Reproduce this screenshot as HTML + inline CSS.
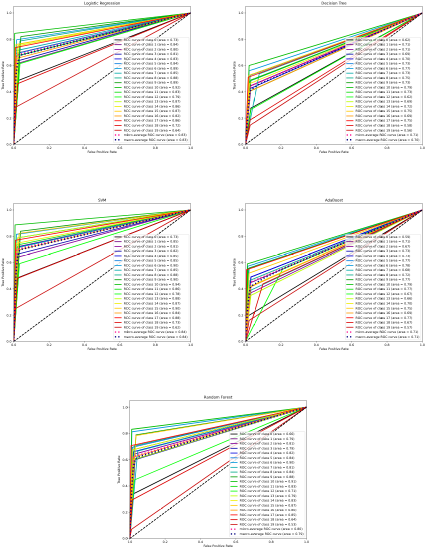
<!DOCTYPE html>
<html><head><meta charset="utf-8"><title>ROC curves</title>
<style>html,body{margin:0;padding:0;background:#fff;width:426px;height:550px;overflow:hidden}#wrap{width:852px;height:1100px;transform:scale(0.5);transform-origin:0 0;will-change:transform}svg{display:block}text{text-rendering:geometricPrecision;font-family:"DejaVu Sans","Liberation Sans",sans-serif;fill:#000}</style></head>
<body>
<div id="wrap">
<svg width="852" height="1100" viewBox="0 0 426 550">
<rect width="426" height="550" fill="#fff"/>
<g id="plot0">
<clipPath id="c0"><rect x="13.8" y="6.4" width="176.8" height="138"/></clipPath>
<g clip-path="url(#c0)" fill="none" stroke-linejoin="round">
<polyline stroke="#000000" stroke-width="0.8" points="13.8,144.4 18.57,80.39 190.6,12.97"/>
<polyline stroke="#700080" stroke-width="0.8" points="13.8,144.4 15.92,53.45 190.6,12.97"/>
<polyline stroke="#870098" stroke-width="0.8" points="13.8,144.4 16.28,63.7 190.6,12.97"/>
<polyline stroke="#0300aa" stroke-width="0.8" points="13.8,144.4 15.92,61.34 190.6,12.97"/>
<polyline stroke="#0000dd" stroke-width="0.8" points="13.8,144.4 15.74,56.21 190.6,12.97"/>
<polyline stroke="#0078dd" stroke-width="0.8" points="13.8,144.4 15.57,53.71 190.6,12.97"/>
<polyline stroke="#0098dd" stroke-width="0.8" points="13.8,144.4 16.63,39.78 190.6,12.97"/>
<polyline stroke="#00aaab" stroke-width="0.8" points="13.8,144.4 16.1,50.69 190.6,12.97"/>
<polyline stroke="#00aa88" stroke-width="0.8" points="13.8,144.4 19.99,40.97 190.6,12.97"/>
<polyline stroke="#009a00" stroke-width="0.8" points="13.8,144.4 20.87,36.63 190.6,12.97"/>
<polyline stroke="#00bc00" stroke-width="0.8" points="13.8,144.4 14.68,33.34 190.6,12.97"/>
<polyline stroke="#00dc00" stroke-width="0.8" points="13.8,144.4 15.92,56.08 190.6,12.97"/>
<polyline stroke="#00ff00" stroke-width="0.8" points="13.8,144.4 19.99,63.57 190.6,12.97"/>
<polyline stroke="#bcff00" stroke-width="0.8" points="13.8,144.4 19.1,44.25 190.6,12.97"/>
<polyline stroke="#efed00" stroke-width="0.8" points="13.8,144.4 17.69,45.83 190.6,12.97"/>
<polyline stroke="#ffc900" stroke-width="0.8" points="13.8,144.4 15.92,44.51 190.6,12.97"/>
<polyline stroke="#ff9900" stroke-width="0.8" points="13.8,144.4 16.28,58.45 190.6,12.97"/>
<polyline stroke="#fe0000" stroke-width="0.8" points="13.8,144.4 15.21,47.67 190.6,12.97"/>
<polyline stroke="#dc0000" stroke-width="0.8" points="13.8,144.4 17.69,83.68 190.6,12.97"/>
<polyline stroke="#cc0c0c" stroke-width="0.8" points="13.8,144.4 15.92,107.07 190.6,12.97"/>
<polyline stroke="#ff1493" stroke-width="1.4" stroke-dasharray="1.26 2.09" points="13.8,144.4 16.77,54.92 190.6,12.97"/>
<polyline stroke="#000080" stroke-width="1.4" stroke-dasharray="1.26 2.09" points="13.8,144.4 14.68,111.59 15.21,95.23 15.57,85.53 15.74,81.13 15.92,77.13 16.1,74.79 16.28,72.8 16.63,70 17.69,63.56 18.57,59.97 19.1,58.17 19.99,55.98 20.87,55.1 190.6,12.97"/>
<line stroke="#000" stroke-width="0.8" stroke-dasharray="2.34 1.01" x1="13.8" y1="144.4" x2="190.6" y2="12.97"/>
</g>
<rect x="13.8" y="6.4" width="176.8" height="138" fill="none" stroke="#000" stroke-width="0.25"/>
<path d="M13.8,144.4v1.11M13.8,144.4h-1.11M49.16,144.4v1.11M13.8,118.11h-1.11M84.52,144.4v1.11M13.8,91.83h-1.11M119.88,144.4v1.11M13.8,65.54h-1.11M155.24,144.4v1.11M13.8,39.26h-1.11M190.6,144.4v1.11M13.8,12.97h-1.11" stroke="#000" stroke-width="0.25" fill="none"/>
<g font-size="3.16">
<text x="13.8" y="149.01" text-anchor="middle">0.0</text>
<text x="49.16" y="149.01" text-anchor="middle">0.2</text>
<text x="84.52" y="149.01" text-anchor="middle">0.4</text>
<text x="119.88" y="149.01" text-anchor="middle">0.6</text>
<text x="155.24" y="149.01" text-anchor="middle">0.8</text>
<text x="190.6" y="149.01" text-anchor="middle">1.0</text>
<text x="11.59" y="145.54" text-anchor="end">0.0</text>
<text x="11.59" y="119.25" text-anchor="end">0.2</text>
<text x="11.59" y="92.97" text-anchor="end">0.4</text>
<text x="11.59" y="66.68" text-anchor="end">0.6</text>
<text x="11.59" y="40.39" text-anchor="end">0.8</text>
<text x="11.59" y="14.11" text-anchor="end">1.0</text>
<text x="102.2" y="153" text-anchor="middle">False Positive Rate</text>
<text transform="translate(3.9,75.4) rotate(-90)" text-anchor="middle">True Positive Rate</text>
</g>
<text x="102.2" y="4.5" font-size="3.79" text-anchor="middle">Logistic Regression</text>
<rect x="113.62" y="37.4" width="75.4" height="105.42" rx="0.6" fill="#fff" fill-opacity="0.8" stroke="#ccc" stroke-opacity="0.8" stroke-width="0.32"/>
<g font-size="3.16" fill="none">
<line x1="114.88" y1="39.9" x2="121.2" y2="39.9" stroke="#000000" stroke-width="0.8" stroke-linecap="square"/><text x="123.73" y="40.9" fill="#000">ROC curve of class 0 (area = 0.73)</text>
<line x1="114.88" y1="44.66" x2="121.2" y2="44.66" stroke="#700080" stroke-width="0.8" stroke-linecap="square"/><text x="123.73" y="45.66" fill="#000">ROC curve of class 1 (area = 0.84)</text>
<line x1="114.88" y1="49.41" x2="121.2" y2="49.41" stroke="#870098" stroke-width="0.8" stroke-linecap="square"/><text x="123.73" y="50.41" fill="#000">ROC curve of class 2 (area = 0.80)</text>
<line x1="114.88" y1="54.16" x2="121.2" y2="54.16" stroke="#0300aa" stroke-width="0.8" stroke-linecap="square"/><text x="123.73" y="55.16" fill="#000">ROC curve of class 3 (area = 0.81)</text>
<line x1="114.88" y1="58.92" x2="121.2" y2="58.92" stroke="#0000dd" stroke-width="0.8" stroke-linecap="square"/><text x="123.73" y="59.92" fill="#000">ROC curve of class 4 (area = 0.83)</text>
<line x1="114.88" y1="63.67" x2="121.2" y2="63.67" stroke="#0078dd" stroke-width="0.8" stroke-linecap="square"/><text x="123.73" y="64.67" fill="#000">ROC curve of class 5 (area = 0.84)</text>
<line x1="114.88" y1="68.43" x2="121.2" y2="68.43" stroke="#0098dd" stroke-width="0.8" stroke-linecap="square"/><text x="123.73" y="69.43" fill="#000">ROC curve of class 6 (area = 0.89)</text>
<line x1="114.88" y1="73.19" x2="121.2" y2="73.19" stroke="#00aaab" stroke-width="0.8" stroke-linecap="square"/><text x="123.73" y="74.19" fill="#000">ROC curve of class 7 (area = 0.85)</text>
<line x1="114.88" y1="77.94" x2="121.2" y2="77.94" stroke="#00aa88" stroke-width="0.8" stroke-linecap="square"/><text x="123.73" y="78.94" fill="#000">ROC curve of class 8 (area = 0.88)</text>
<line x1="114.88" y1="82.69" x2="121.2" y2="82.69" stroke="#009a00" stroke-width="0.8" stroke-linecap="square"/><text x="123.73" y="83.69" fill="#000">ROC curve of class 9 (area = 0.89)</text>
<line x1="114.88" y1="87.45" x2="121.2" y2="87.45" stroke="#00bc00" stroke-width="0.8" stroke-linecap="square"/><text x="123.73" y="88.45" fill="#000">ROC curve of class 10 (area = 0.92)</text>
<line x1="114.88" y1="92.2" x2="121.2" y2="92.2" stroke="#00dc00" stroke-width="0.8" stroke-linecap="square"/><text x="123.73" y="93.2" fill="#000">ROC curve of class 11 (area = 0.83)</text>
<line x1="114.88" y1="96.96" x2="121.2" y2="96.96" stroke="#00ff00" stroke-width="0.8" stroke-linecap="square"/><text x="123.73" y="97.96" fill="#000">ROC curve of class 12 (area = 0.79)</text>
<line x1="114.88" y1="101.72" x2="121.2" y2="101.72" stroke="#bcff00" stroke-width="0.8" stroke-linecap="square"/><text x="123.73" y="102.72" fill="#000">ROC curve of class 13 (area = 0.87)</text>
<line x1="114.88" y1="106.47" x2="121.2" y2="106.47" stroke="#efed00" stroke-width="0.8" stroke-linecap="square"/><text x="123.73" y="107.47" fill="#000">ROC curve of class 14 (area = 0.86)</text>
<line x1="114.88" y1="111.22" x2="121.2" y2="111.22" stroke="#ffc900" stroke-width="0.8" stroke-linecap="square"/><text x="123.73" y="112.22" fill="#000">ROC curve of class 15 (area = 0.87)</text>
<line x1="114.88" y1="115.98" x2="121.2" y2="115.98" stroke="#ff9900" stroke-width="0.8" stroke-linecap="square"/><text x="123.73" y="116.98" fill="#000">ROC curve of class 16 (area = 0.82)</text>
<line x1="114.88" y1="120.73" x2="121.2" y2="120.73" stroke="#fe0000" stroke-width="0.8" stroke-linecap="square"/><text x="123.73" y="121.73" fill="#000">ROC curve of class 17 (area = 0.86)</text>
<line x1="114.88" y1="125.49" x2="121.2" y2="125.49" stroke="#dc0000" stroke-width="0.8" stroke-linecap="square"/><text x="123.73" y="126.49" fill="#000">ROC curve of class 18 (area = 0.72)</text>
<line x1="114.88" y1="130.25" x2="121.2" y2="130.25" stroke="#cc0c0c" stroke-width="0.8" stroke-linecap="square"/><text x="123.73" y="131.25" fill="#000">ROC curve of class 19 (area = 0.64)</text>
<line x1="114.88" y1="135" x2="121.2" y2="135" stroke="#ff1493" stroke-width="1.4" stroke-dasharray="1.26 2.09"/><text x="123.73" y="136" fill="#000">micro-average ROC curve (area = 0.83)</text>
<line x1="114.88" y1="139.75" x2="121.2" y2="139.75" stroke="#000080" stroke-width="1.4" stroke-dasharray="1.26 2.09"/><text x="123.73" y="140.75" fill="#000">macro-average ROC curve (area = 0.83)</text>
</g>
</g>
<g id="plot1">
<clipPath id="c1"><rect x="245.6" y="6.4" width="176.8" height="138"/></clipPath>
<g clip-path="url(#c1)" fill="none" stroke-linejoin="round">
<polyline stroke="#000000" stroke-width="0.8" points="245.6,144.4 250.9,108.13 422.4,12.97"/>
<polyline stroke="#700080" stroke-width="0.8" points="245.6,144.4 250.02,85.91 422.4,12.97"/>
<polyline stroke="#870098" stroke-width="0.8" points="245.6,144.4 249.49,86.31 422.4,12.97"/>
<polyline stroke="#0300aa" stroke-width="0.8" points="245.6,144.4 250.55,90.78 422.4,12.97"/>
<polyline stroke="#0000dd" stroke-width="0.8" points="245.6,144.4 249.84,88.67 422.4,12.97"/>
<polyline stroke="#0078dd" stroke-width="0.8" points="245.6,144.4 249.14,81.31 422.4,12.97"/>
<polyline stroke="#0098dd" stroke-width="0.8" points="245.6,144.4 249.14,70.8 422.4,12.97"/>
<polyline stroke="#00aaab" stroke-width="0.8" points="245.6,144.4 259.21,73.82 422.4,12.97"/>
<polyline stroke="#00aa88" stroke-width="0.8" points="245.6,144.4 250.2,75.27 422.4,12.97"/>
<polyline stroke="#009a00" stroke-width="0.8" points="245.6,144.4 250.9,80 422.4,12.97"/>
<polyline stroke="#00bc00" stroke-width="0.8" points="245.6,144.4 249.14,65.54 422.4,12.97"/>
<polyline stroke="#00dc00" stroke-width="0.8" points="245.6,144.4 249.49,81.05 422.4,12.97"/>
<polyline stroke="#00ff00" stroke-width="0.8" points="245.6,144.4 250.9,109.44 422.4,12.97"/>
<polyline stroke="#bcff00" stroke-width="0.8" points="245.6,144.4 250.02,91.17 422.4,12.97"/>
<polyline stroke="#efed00" stroke-width="0.8" points="245.6,144.4 249.49,83.68 422.4,12.97"/>
<polyline stroke="#ffc900" stroke-width="0.8" points="245.6,144.4 249.14,75.27 422.4,12.97"/>
<polyline stroke="#ff9900" stroke-width="0.8" points="245.6,144.4 250.02,91.17 422.4,12.97"/>
<polyline stroke="#fe0000" stroke-width="0.8" points="245.6,144.4 248.25,77.24 422.4,12.97"/>
<polyline stroke="#dc0000" stroke-width="0.8" points="245.6,144.4 250.2,119.95 422.4,12.97"/>
<polyline stroke="#cc0c0c" stroke-width="0.8" points="245.6,144.4 250.2,125.21 422.4,12.97"/>
<polyline stroke="#ff1493" stroke-width="1.4" stroke-dasharray="1.26 2.09" points="245.6,144.4 250.76,85.89 422.4,12.97"/>
<polyline stroke="#000080" stroke-width="1.4" stroke-dasharray="1.26 2.09" points="245.6,144.4 248.25,108.7 249.14,97.9 249.49,94.98 249.84,92.87 250.02,91.92 250.2,91.3 250.55,90.45 250.9,89.78 259.21,84.16 422.4,12.97"/>
<line stroke="#000" stroke-width="0.8" stroke-dasharray="2.34 1.01" x1="245.6" y1="144.4" x2="422.4" y2="12.97"/>
</g>
<rect x="245.6" y="6.4" width="176.8" height="138" fill="none" stroke="#000" stroke-width="0.25"/>
<path d="M245.6,144.4v1.11M245.6,144.4h-1.11M280.96,144.4v1.11M245.6,118.11h-1.11M316.32,144.4v1.11M245.6,91.83h-1.11M351.68,144.4v1.11M245.6,65.54h-1.11M387.04,144.4v1.11M245.6,39.26h-1.11M422.4,144.4v1.11M245.6,12.97h-1.11" stroke="#000" stroke-width="0.25" fill="none"/>
<g font-size="3.16">
<text x="245.6" y="149.01" text-anchor="middle">0.0</text>
<text x="280.96" y="149.01" text-anchor="middle">0.2</text>
<text x="316.32" y="149.01" text-anchor="middle">0.4</text>
<text x="351.68" y="149.01" text-anchor="middle">0.6</text>
<text x="387.04" y="149.01" text-anchor="middle">0.8</text>
<text x="422.4" y="149.01" text-anchor="middle">1.0</text>
<text x="243.39" y="145.54" text-anchor="end">0.0</text>
<text x="243.39" y="119.25" text-anchor="end">0.2</text>
<text x="243.39" y="92.97" text-anchor="end">0.4</text>
<text x="243.39" y="66.68" text-anchor="end">0.6</text>
<text x="243.39" y="40.39" text-anchor="end">0.8</text>
<text x="243.39" y="14.11" text-anchor="end">1.0</text>
<text x="334" y="153" text-anchor="middle">False Positive Rate</text>
<text transform="translate(235.7,75.4) rotate(-90)" text-anchor="middle">True Positive Rate</text>
</g>
<text x="334" y="4.5" font-size="3.79" text-anchor="middle">Decision Tree</text>
<rect x="345.42" y="37.4" width="75.4" height="105.42" rx="0.6" fill="#fff" fill-opacity="0.8" stroke="#ccc" stroke-opacity="0.8" stroke-width="0.32"/>
<g font-size="3.16" fill="none">
<line x1="346.68" y1="39.9" x2="353" y2="39.9" stroke="#000000" stroke-width="0.8" stroke-linecap="square"/><text x="355.53" y="40.9" fill="#000">ROC curve of class 0 (area = 0.62)</text>
<line x1="346.68" y1="44.66" x2="353" y2="44.66" stroke="#700080" stroke-width="0.8" stroke-linecap="square"/><text x="355.53" y="45.66" fill="#000">ROC curve of class 1 (area = 0.71)</text>
<line x1="346.68" y1="49.41" x2="353" y2="49.41" stroke="#870098" stroke-width="0.8" stroke-linecap="square"/><text x="355.53" y="50.41" fill="#000">ROC curve of class 2 (area = 0.71)</text>
<line x1="346.68" y1="54.16" x2="353" y2="54.16" stroke="#0300aa" stroke-width="0.8" stroke-linecap="square"/><text x="355.53" y="55.16" fill="#000">ROC curve of class 3 (area = 0.69)</text>
<line x1="346.68" y1="58.92" x2="353" y2="58.92" stroke="#0000dd" stroke-width="0.8" stroke-linecap="square"/><text x="355.53" y="59.92" fill="#000">ROC curve of class 4 (area = 0.70)</text>
<line x1="346.68" y1="63.67" x2="353" y2="63.67" stroke="#0078dd" stroke-width="0.8" stroke-linecap="square"/><text x="355.53" y="64.67" fill="#000">ROC curve of class 5 (area = 0.73)</text>
<line x1="346.68" y1="68.43" x2="353" y2="68.43" stroke="#0098dd" stroke-width="0.8" stroke-linecap="square"/><text x="355.53" y="69.43" fill="#000">ROC curve of class 6 (area = 0.77)</text>
<line x1="346.68" y1="73.19" x2="353" y2="73.19" stroke="#00aaab" stroke-width="0.8" stroke-linecap="square"/><text x="355.53" y="74.19" fill="#000">ROC curve of class 7 (area = 0.73)</text>
<line x1="346.68" y1="77.94" x2="353" y2="77.94" stroke="#00aa88" stroke-width="0.8" stroke-linecap="square"/><text x="355.53" y="78.94" fill="#000">ROC curve of class 8 (area = 0.75)</text>
<line x1="346.68" y1="82.69" x2="353" y2="82.69" stroke="#009a00" stroke-width="0.8" stroke-linecap="square"/><text x="355.53" y="83.69" fill="#000">ROC curve of class 9 (area = 0.73)</text>
<line x1="346.68" y1="87.45" x2="353" y2="87.45" stroke="#00bc00" stroke-width="0.8" stroke-linecap="square"/><text x="355.53" y="88.45" fill="#000">ROC curve of class 10 (area = 0.79)</text>
<line x1="346.68" y1="92.2" x2="353" y2="92.2" stroke="#00dc00" stroke-width="0.8" stroke-linecap="square"/><text x="355.53" y="93.2" fill="#000">ROC curve of class 11 (area = 0.73)</text>
<line x1="346.68" y1="96.96" x2="353" y2="96.96" stroke="#00ff00" stroke-width="0.8" stroke-linecap="square"/><text x="355.53" y="97.96" fill="#000">ROC curve of class 12 (area = 0.62)</text>
<line x1="346.68" y1="101.72" x2="353" y2="101.72" stroke="#bcff00" stroke-width="0.8" stroke-linecap="square"/><text x="355.53" y="102.72" fill="#000">ROC curve of class 13 (area = 0.69)</text>
<line x1="346.68" y1="106.47" x2="353" y2="106.47" stroke="#efed00" stroke-width="0.8" stroke-linecap="square"/><text x="355.53" y="107.47" fill="#000">ROC curve of class 14 (area = 0.72)</text>
<line x1="346.68" y1="111.22" x2="353" y2="111.22" stroke="#ffc900" stroke-width="0.8" stroke-linecap="square"/><text x="355.53" y="112.22" fill="#000">ROC curve of class 15 (area = 0.75)</text>
<line x1="346.68" y1="115.98" x2="353" y2="115.98" stroke="#ff9900" stroke-width="0.8" stroke-linecap="square"/><text x="355.53" y="116.98" fill="#000">ROC curve of class 16 (area = 0.69)</text>
<line x1="346.68" y1="120.73" x2="353" y2="120.73" stroke="#fe0000" stroke-width="0.8" stroke-linecap="square"/><text x="355.53" y="121.73" fill="#000">ROC curve of class 17 (area = 0.75)</text>
<line x1="346.68" y1="125.49" x2="353" y2="125.49" stroke="#dc0000" stroke-width="0.8" stroke-linecap="square"/><text x="355.53" y="126.49" fill="#000">ROC curve of class 18 (area = 0.58)</text>
<line x1="346.68" y1="130.25" x2="353" y2="130.25" stroke="#cc0c0c" stroke-width="0.8" stroke-linecap="square"/><text x="355.53" y="131.25" fill="#000">ROC curve of class 19 (area = 0.56)</text>
<line x1="346.68" y1="135" x2="353" y2="135" stroke="#ff1493" stroke-width="1.4" stroke-dasharray="1.26 2.09"/><text x="355.53" y="136" fill="#000">micro-average ROC curve (area = 0.71)</text>
<line x1="346.68" y1="139.75" x2="353" y2="139.75" stroke="#000080" stroke-width="1.4" stroke-dasharray="1.26 2.09"/><text x="355.53" y="140.75" fill="#000">macro-average ROC curve (area = 0.70)</text>
</g>
</g>
<g id="plot2">
<clipPath id="c2"><rect x="13.8" y="203.42" width="176.8" height="138"/></clipPath>
<g clip-path="url(#c2)" fill="none" stroke-linejoin="round">
<polyline stroke="#000000" stroke-width="0.8" points="13.8,341.42 18.22,277.68 190.6,209.99"/>
<polyline stroke="#700080" stroke-width="0.8" points="13.8,341.42 17.34,246.79 190.6,209.99"/>
<polyline stroke="#870098" stroke-width="0.8" points="13.8,341.42 17.34,257.31 190.6,209.99"/>
<polyline stroke="#0300aa" stroke-width="0.8" points="13.8,341.42 18.22,254.02 190.6,209.99"/>
<polyline stroke="#0000dd" stroke-width="0.8" points="13.8,341.42 16.45,247.45 190.6,209.99"/>
<polyline stroke="#0078dd" stroke-width="0.8" points="13.8,341.42 15.92,247.84 190.6,209.99"/>
<polyline stroke="#0098dd" stroke-width="0.8" points="13.8,341.42 16.45,234.31 190.6,209.99"/>
<polyline stroke="#00aaab" stroke-width="0.8" points="13.8,341.42 15.92,247.84 190.6,209.99"/>
<polyline stroke="#00aa88" stroke-width="0.8" points="13.8,341.42 19.1,237.59 190.6,209.99"/>
<polyline stroke="#009a00" stroke-width="0.8" points="13.8,341.42 20.52,231.28 190.6,209.99"/>
<polyline stroke="#00bc00" stroke-width="0.8" points="13.8,341.42 15.04,224.84 190.6,209.99"/>
<polyline stroke="#00dc00" stroke-width="0.8" points="13.8,341.42 15.92,245.21 190.6,209.99"/>
<polyline stroke="#00ff00" stroke-width="0.8" points="13.8,341.42 19.46,263.61 190.6,209.99"/>
<polyline stroke="#bcff00" stroke-width="0.8" points="13.8,341.42 17.34,237.85 190.6,209.99"/>
<polyline stroke="#efed00" stroke-width="0.8" points="13.8,341.42 15.92,243.37 190.6,209.99"/>
<polyline stroke="#ffc900" stroke-width="0.8" points="13.8,341.42 19.1,233.39 190.6,209.99"/>
<polyline stroke="#ff9900" stroke-width="0.8" points="13.8,341.42 15.92,250.47 190.6,209.99"/>
<polyline stroke="#fe0000" stroke-width="0.8" points="13.8,341.42 15.57,240.22 190.6,209.99"/>
<polyline stroke="#dc0000" stroke-width="0.8" points="13.8,341.42 17.34,278.33 190.6,209.99"/>
<polyline stroke="#cc0c0c" stroke-width="0.8" points="13.8,341.42 15.57,308.56 190.6,209.99"/>
<polyline stroke="#ff1493" stroke-width="1.4" stroke-dasharray="1.26 2.09" points="13.8,341.42 16.58,249.2 190.6,209.99"/>
<polyline stroke="#000080" stroke-width="1.4" stroke-dasharray="1.26 2.09" points="13.8,341.42 15.04,299.93 15.57,284.65 15.92,275.79 16.45,268.37 17.34,259.34 18.22,254.59 19.1,251.32 19.46,250.71 20.52,249.6 190.6,209.99"/>
<line stroke="#000" stroke-width="0.8" stroke-dasharray="2.34 1.01" x1="13.8" y1="341.42" x2="190.6" y2="209.99"/>
</g>
<rect x="13.8" y="203.42" width="176.8" height="138" fill="none" stroke="#000" stroke-width="0.25"/>
<path d="M13.8,341.42v1.11M13.8,341.42h-1.11M49.16,341.42v1.11M13.8,315.13h-1.11M84.52,341.42v1.11M13.8,288.85h-1.11M119.88,341.42v1.11M13.8,262.56h-1.11M155.24,341.42v1.11M13.8,236.28h-1.11M190.6,341.42v1.11M13.8,209.99h-1.11" stroke="#000" stroke-width="0.25" fill="none"/>
<g font-size="3.16">
<text x="13.8" y="346.03" text-anchor="middle">0.0</text>
<text x="49.16" y="346.03" text-anchor="middle">0.2</text>
<text x="84.52" y="346.03" text-anchor="middle">0.4</text>
<text x="119.88" y="346.03" text-anchor="middle">0.6</text>
<text x="155.24" y="346.03" text-anchor="middle">0.8</text>
<text x="190.6" y="346.03" text-anchor="middle">1.0</text>
<text x="11.59" y="342.56" text-anchor="end">0.0</text>
<text x="11.59" y="316.27" text-anchor="end">0.2</text>
<text x="11.59" y="289.99" text-anchor="end">0.4</text>
<text x="11.59" y="263.7" text-anchor="end">0.6</text>
<text x="11.59" y="237.41" text-anchor="end">0.8</text>
<text x="11.59" y="211.13" text-anchor="end">1.0</text>
<text x="102.2" y="350.02" text-anchor="middle">False Positive Rate</text>
<text transform="translate(3.9,272.42) rotate(-90)" text-anchor="middle">True Positive Rate</text>
</g>
<text x="102.2" y="201.52" font-size="3.79" text-anchor="middle">SVM</text>
<rect x="113.62" y="234.42" width="75.4" height="105.42" rx="0.6" fill="#fff" fill-opacity="0.8" stroke="#ccc" stroke-opacity="0.8" stroke-width="0.32"/>
<g font-size="3.16" fill="none">
<line x1="114.88" y1="236.92" x2="121.2" y2="236.92" stroke="#000000" stroke-width="0.8" stroke-linecap="square"/><text x="123.73" y="237.92" fill="#000">ROC curve of class 0 (area = 0.73)</text>
<line x1="114.88" y1="241.67" x2="121.2" y2="241.67" stroke="#700080" stroke-width="0.8" stroke-linecap="square"/><text x="123.73" y="242.67" fill="#000">ROC curve of class 1 (area = 0.85)</text>
<line x1="114.88" y1="246.43" x2="121.2" y2="246.43" stroke="#870098" stroke-width="0.8" stroke-linecap="square"/><text x="123.73" y="247.43" fill="#000">ROC curve of class 2 (area = 0.81)</text>
<line x1="114.88" y1="251.19" x2="121.2" y2="251.19" stroke="#0300aa" stroke-width="0.8" stroke-linecap="square"/><text x="123.73" y="252.19" fill="#000">ROC curve of class 3 (area = 0.82)</text>
<line x1="114.88" y1="255.94" x2="121.2" y2="255.94" stroke="#0000dd" stroke-width="0.8" stroke-linecap="square"/><text x="123.73" y="256.94" fill="#000">ROC curve of class 4 (area = 0.85)</text>
<line x1="114.88" y1="260.69" x2="121.2" y2="260.69" stroke="#0078dd" stroke-width="0.8" stroke-linecap="square"/><text x="123.73" y="261.69" fill="#000">ROC curve of class 5 (area = 0.85)</text>
<line x1="114.88" y1="265.45" x2="121.2" y2="265.45" stroke="#0098dd" stroke-width="0.8" stroke-linecap="square"/><text x="123.73" y="266.45" fill="#000">ROC curve of class 6 (area = 0.90)</text>
<line x1="114.88" y1="270.2" x2="121.2" y2="270.2" stroke="#00aaab" stroke-width="0.8" stroke-linecap="square"/><text x="123.73" y="271.2" fill="#000">ROC curve of class 7 (area = 0.85)</text>
<line x1="114.88" y1="274.96" x2="121.2" y2="274.96" stroke="#00aa88" stroke-width="0.8" stroke-linecap="square"/><text x="123.73" y="275.96" fill="#000">ROC curve of class 8 (area = 0.88)</text>
<line x1="114.88" y1="279.71" x2="121.2" y2="279.71" stroke="#009a00" stroke-width="0.8" stroke-linecap="square"/><text x="123.73" y="280.71" fill="#000">ROC curve of class 9 (area = 0.90)</text>
<line x1="114.88" y1="284.47" x2="121.2" y2="284.47" stroke="#00bc00" stroke-width="0.8" stroke-linecap="square"/><text x="123.73" y="285.47" fill="#000">ROC curve of class 10 (area = 0.94)</text>
<line x1="114.88" y1="289.22" x2="121.2" y2="289.22" stroke="#00dc00" stroke-width="0.8" stroke-linecap="square"/><text x="123.73" y="290.22" fill="#000">ROC curve of class 11 (area = 0.86)</text>
<line x1="114.88" y1="293.98" x2="121.2" y2="293.98" stroke="#00ff00" stroke-width="0.8" stroke-linecap="square"/><text x="123.73" y="294.98" fill="#000">ROC curve of class 12 (area = 0.78)</text>
<line x1="114.88" y1="298.74" x2="121.2" y2="298.74" stroke="#bcff00" stroke-width="0.8" stroke-linecap="square"/><text x="123.73" y="299.74" fill="#000">ROC curve of class 13 (area = 0.88)</text>
<line x1="114.88" y1="303.49" x2="121.2" y2="303.49" stroke="#efed00" stroke-width="0.8" stroke-linecap="square"/><text x="123.73" y="304.49" fill="#000">ROC curve of class 14 (area = 0.87)</text>
<line x1="114.88" y1="308.25" x2="121.2" y2="308.25" stroke="#ffc900" stroke-width="0.8" stroke-linecap="square"/><text x="123.73" y="309.25" fill="#000">ROC curve of class 15 (area = 0.90)</text>
<line x1="114.88" y1="313" x2="121.2" y2="313" stroke="#ff9900" stroke-width="0.8" stroke-linecap="square"/><text x="123.73" y="314" fill="#000">ROC curve of class 16 (area = 0.84)</text>
<line x1="114.88" y1="317.75" x2="121.2" y2="317.75" stroke="#fe0000" stroke-width="0.8" stroke-linecap="square"/><text x="123.73" y="318.75" fill="#000">ROC curve of class 17 (area = 0.88)</text>
<line x1="114.88" y1="322.51" x2="121.2" y2="322.51" stroke="#dc0000" stroke-width="0.8" stroke-linecap="square"/><text x="123.73" y="323.51" fill="#000">ROC curve of class 18 (area = 0.73)</text>
<line x1="114.88" y1="327.26" x2="121.2" y2="327.26" stroke="#cc0c0c" stroke-width="0.8" stroke-linecap="square"/><text x="123.73" y="328.26" fill="#000">ROC curve of class 19 (area = 0.62)</text>
<line x1="114.88" y1="332.02" x2="121.2" y2="332.02" stroke="#ff1493" stroke-width="1.4" stroke-dasharray="1.26 2.09"/><text x="123.73" y="333.02" fill="#000">micro-average ROC curve (area = 0.84)</text>
<line x1="114.88" y1="336.77" x2="121.2" y2="336.77" stroke="#000080" stroke-width="1.4" stroke-dasharray="1.26 2.09"/><text x="123.73" y="337.77" fill="#000">macro-average ROC curve (area = 0.84)</text>
</g>
</g>
<g id="plot3">
<clipPath id="c3"><rect x="245.6" y="203.42" width="176.8" height="138"/></clipPath>
<g clip-path="url(#c3)" fill="none" stroke-linejoin="round">
<polyline stroke="#000000" stroke-width="0.8" points="245.6,341.42 248.25,315.79 422.4,209.99"/>
<polyline stroke="#700080" stroke-width="0.8" points="245.6,341.42 250.02,282.93 422.4,209.99"/>
<polyline stroke="#870098" stroke-width="0.8" points="245.6,341.42 250.9,292.79 422.4,209.99"/>
<polyline stroke="#0300aa" stroke-width="0.8" points="245.6,341.42 250.9,277.02 422.4,209.99"/>
<polyline stroke="#0000dd" stroke-width="0.8" points="245.6,341.42 250.9,277.02 422.4,209.99"/>
<polyline stroke="#0078dd" stroke-width="0.8" points="245.6,341.42 249.14,267.82 422.4,209.99"/>
<polyline stroke="#0098dd" stroke-width="0.8" points="245.6,341.42 247.72,266.24 422.4,209.99"/>
<polyline stroke="#00aaab" stroke-width="0.8" points="245.6,341.42 250.9,290.16 422.4,209.99"/>
<polyline stroke="#00aa88" stroke-width="0.8" points="245.6,341.42 250.02,280.31 422.4,209.99"/>
<polyline stroke="#009a00" stroke-width="0.8" points="245.6,341.42 247.72,268.87 422.4,209.99"/>
<polyline stroke="#00bc00" stroke-width="0.8" points="245.6,341.42 247.37,263.88 422.4,209.99"/>
<polyline stroke="#00dc00" stroke-width="0.8" points="245.6,341.42 248.25,268.48 422.4,209.99"/>
<polyline stroke="#00ff00" stroke-width="0.8" points="245.6,341.42 282.37,269.4 422.4,209.99"/>
<polyline stroke="#bcff00" stroke-width="0.8" points="245.6,341.42 250.9,295.42 422.4,209.99"/>
<polyline stroke="#efed00" stroke-width="0.8" points="245.6,341.42 250.02,286.35 422.4,209.99"/>
<polyline stroke="#ffc900" stroke-width="0.8" points="245.6,341.42 249.14,273.08 422.4,209.99"/>
<polyline stroke="#ff9900" stroke-width="0.8" points="245.6,341.42 250.9,286.75 422.4,209.99"/>
<polyline stroke="#fe0000" stroke-width="0.8" points="245.6,341.42 246.48,269.79 422.4,209.99"/>
<polyline stroke="#dc0000" stroke-width="0.8" points="245.6,341.42 262.93,283.85 422.4,209.99"/>
<polyline stroke="#cc0c0c" stroke-width="0.8" points="245.6,341.42 249.14,320.39 422.4,209.99"/>
<polyline stroke="#ff1493" stroke-width="1.4" stroke-dasharray="1.26 2.09" points="245.6,341.42 250.69,281.91 422.4,209.99"/>
<polyline stroke="#000080" stroke-width="1.4" stroke-dasharray="1.26 2.09" points="245.6,341.42 246.48,324.42 247.37,310.98 247.72,306.38 248.25,301.3 249.14,294.44 250.02,289.56 250.9,286.36 262.93,278.66 282.37,268.97 422.4,209.99"/>
<line stroke="#000" stroke-width="0.8" stroke-dasharray="2.34 1.01" x1="245.6" y1="341.42" x2="422.4" y2="209.99"/>
</g>
<rect x="245.6" y="203.42" width="176.8" height="138" fill="none" stroke="#000" stroke-width="0.25"/>
<path d="M245.6,341.42v1.11M245.6,341.42h-1.11M280.96,341.42v1.11M245.6,315.13h-1.11M316.32,341.42v1.11M245.6,288.85h-1.11M351.68,341.42v1.11M245.6,262.56h-1.11M387.04,341.42v1.11M245.6,236.28h-1.11M422.4,341.42v1.11M245.6,209.99h-1.11" stroke="#000" stroke-width="0.25" fill="none"/>
<g font-size="3.16">
<text x="245.6" y="346.03" text-anchor="middle">0.0</text>
<text x="280.96" y="346.03" text-anchor="middle">0.2</text>
<text x="316.32" y="346.03" text-anchor="middle">0.4</text>
<text x="351.68" y="346.03" text-anchor="middle">0.6</text>
<text x="387.04" y="346.03" text-anchor="middle">0.8</text>
<text x="422.4" y="346.03" text-anchor="middle">1.0</text>
<text x="243.39" y="342.56" text-anchor="end">0.0</text>
<text x="243.39" y="316.27" text-anchor="end">0.2</text>
<text x="243.39" y="289.99" text-anchor="end">0.4</text>
<text x="243.39" y="263.7" text-anchor="end">0.6</text>
<text x="243.39" y="237.41" text-anchor="end">0.8</text>
<text x="243.39" y="211.13" text-anchor="end">1.0</text>
<text x="334" y="350.02" text-anchor="middle">False Positive Rate</text>
<text transform="translate(235.7,272.42) rotate(-90)" text-anchor="middle">True Positive Rate</text>
</g>
<text x="334" y="201.52" font-size="3.79" text-anchor="middle">AdaBoost</text>
<rect x="345.42" y="234.42" width="75.4" height="105.42" rx="0.6" fill="#fff" fill-opacity="0.8" stroke="#ccc" stroke-opacity="0.8" stroke-width="0.32"/>
<g font-size="3.16" fill="none">
<line x1="346.68" y1="236.92" x2="353" y2="236.92" stroke="#000000" stroke-width="0.8" stroke-linecap="square"/><text x="355.53" y="237.92" fill="#000">ROC curve of class 0 (area = 0.59)</text>
<line x1="346.68" y1="241.67" x2="353" y2="241.67" stroke="#700080" stroke-width="0.8" stroke-linecap="square"/><text x="355.53" y="242.67" fill="#000">ROC curve of class 1 (area = 0.71)</text>
<line x1="346.68" y1="246.43" x2="353" y2="246.43" stroke="#870098" stroke-width="0.8" stroke-linecap="square"/><text x="355.53" y="247.43" fill="#000">ROC curve of class 2 (area = 0.67)</text>
<line x1="346.68" y1="251.19" x2="353" y2="251.19" stroke="#0300aa" stroke-width="0.8" stroke-linecap="square"/><text x="355.53" y="252.19" fill="#000">ROC curve of class 3 (area = 0.73)</text>
<line x1="346.68" y1="255.94" x2="353" y2="255.94" stroke="#0000dd" stroke-width="0.8" stroke-linecap="square"/><text x="355.53" y="256.94" fill="#000">ROC curve of class 4 (area = 0.73)</text>
<line x1="346.68" y1="260.69" x2="353" y2="260.69" stroke="#0078dd" stroke-width="0.8" stroke-linecap="square"/><text x="355.53" y="261.69" fill="#000">ROC curve of class 5 (area = 0.77)</text>
<line x1="346.68" y1="265.45" x2="353" y2="265.45" stroke="#0098dd" stroke-width="0.8" stroke-linecap="square"/><text x="355.53" y="266.45" fill="#000">ROC curve of class 6 (area = 0.78)</text>
<line x1="346.68" y1="270.2" x2="353" y2="270.2" stroke="#00aaab" stroke-width="0.8" stroke-linecap="square"/><text x="355.53" y="271.2" fill="#000">ROC curve of class 7 (area = 0.68)</text>
<line x1="346.68" y1="274.96" x2="353" y2="274.96" stroke="#00aa88" stroke-width="0.8" stroke-linecap="square"/><text x="355.53" y="275.96" fill="#000">ROC curve of class 8 (area = 0.72)</text>
<line x1="346.68" y1="279.71" x2="353" y2="279.71" stroke="#009a00" stroke-width="0.8" stroke-linecap="square"/><text x="355.53" y="280.71" fill="#000">ROC curve of class 9 (area = 0.77)</text>
<line x1="346.68" y1="284.47" x2="353" y2="284.47" stroke="#00bc00" stroke-width="0.8" stroke-linecap="square"/><text x="355.53" y="285.47" fill="#000">ROC curve of class 10 (area = 0.79)</text>
<line x1="346.68" y1="289.22" x2="353" y2="289.22" stroke="#00dc00" stroke-width="0.8" stroke-linecap="square"/><text x="355.53" y="290.22" fill="#000">ROC curve of class 11 (area = 0.77)</text>
<line x1="346.68" y1="293.98" x2="353" y2="293.98" stroke="#00ff00" stroke-width="0.8" stroke-linecap="square"/><text x="355.53" y="294.98" fill="#000">ROC curve of class 12 (area = 0.67)</text>
<line x1="346.68" y1="298.74" x2="353" y2="298.74" stroke="#bcff00" stroke-width="0.8" stroke-linecap="square"/><text x="355.53" y="299.74" fill="#000">ROC curve of class 13 (area = 0.66)</text>
<line x1="346.68" y1="303.49" x2="353" y2="303.49" stroke="#efed00" stroke-width="0.8" stroke-linecap="square"/><text x="355.53" y="304.49" fill="#000">ROC curve of class 14 (area = 0.70)</text>
<line x1="346.68" y1="308.25" x2="353" y2="308.25" stroke="#ffc900" stroke-width="0.8" stroke-linecap="square"/><text x="355.53" y="309.25" fill="#000">ROC curve of class 15 (area = 0.75)</text>
<line x1="346.68" y1="313" x2="353" y2="313" stroke="#ff9900" stroke-width="0.8" stroke-linecap="square"/><text x="355.53" y="314" fill="#000">ROC curve of class 16 (area = 0.69)</text>
<line x1="346.68" y1="317.75" x2="353" y2="317.75" stroke="#fe0000" stroke-width="0.8" stroke-linecap="square"/><text x="355.53" y="318.75" fill="#000">ROC curve of class 17 (area = 0.77)</text>
<line x1="346.68" y1="322.51" x2="353" y2="322.51" stroke="#dc0000" stroke-width="0.8" stroke-linecap="square"/><text x="355.53" y="323.51" fill="#000">ROC curve of class 18 (area = 0.67)</text>
<line x1="346.68" y1="327.26" x2="353" y2="327.26" stroke="#cc0c0c" stroke-width="0.8" stroke-linecap="square"/><text x="355.53" y="328.26" fill="#000">ROC curve of class 19 (area = 0.57)</text>
<line x1="346.68" y1="332.02" x2="353" y2="332.02" stroke="#ff1493" stroke-width="1.4" stroke-dasharray="1.26 2.09"/><text x="355.53" y="333.02" fill="#000">micro-average ROC curve (area = 0.71)</text>
<line x1="346.68" y1="336.77" x2="353" y2="336.77" stroke="#000080" stroke-width="1.4" stroke-dasharray="1.26 2.09"/><text x="355.53" y="337.77" fill="#000">macro-average ROC curve (area = 0.71)</text>
</g>
</g>
<g id="plot4">
<clipPath id="c4"><rect x="129.75" y="400.55" width="176.8" height="138"/></clipPath>
<g clip-path="url(#c4)" fill="none" stroke-linejoin="round">
<polyline stroke="#000000" stroke-width="0.8" points="129.75,538.55 133.29,493.86 306.55,407.12"/>
<polyline stroke="#700080" stroke-width="0.8" points="129.75,538.55 133.29,459.69 306.55,407.12"/>
<polyline stroke="#870098" stroke-width="0.8" points="129.75,538.55 133.29,454.44 306.55,407.12"/>
<polyline stroke="#0300aa" stroke-width="0.8" points="129.75,538.55 135.05,459.69 306.55,407.12"/>
<polyline stroke="#0000dd" stroke-width="0.8" points="129.75,538.55 133.29,451.81 306.55,407.12"/>
<polyline stroke="#0078dd" stroke-width="0.8" points="129.75,538.55 132.4,447.21 306.55,407.12"/>
<polyline stroke="#0098dd" stroke-width="0.8" points="129.75,538.55 131.87,431.83 306.55,407.12"/>
<polyline stroke="#00aaab" stroke-width="0.8" points="129.75,538.55 137.71,451.15 306.55,407.12"/>
<polyline stroke="#00aa88" stroke-width="0.8" points="129.75,538.55 134.17,445.89 306.55,407.12"/>
<polyline stroke="#009a00" stroke-width="0.8" points="129.75,538.55 135.94,434.85 306.55,407.12"/>
<polyline stroke="#00bc00" stroke-width="0.8" points="129.75,538.55 131.69,429.33 306.55,407.12"/>
<polyline stroke="#00dc00" stroke-width="0.8" points="129.75,538.55 132.4,449.84 306.55,407.12"/>
<polyline stroke="#00ff00" stroke-width="0.8" points="129.75,538.55 134.17,480.06 306.55,407.12"/>
<polyline stroke="#bcff00" stroke-width="0.8" points="129.75,538.55 133.29,459.69 306.55,407.12"/>
<polyline stroke="#efed00" stroke-width="0.8" points="129.75,538.55 132.4,449.84 306.55,407.12"/>
<polyline stroke="#ffc900" stroke-width="0.8" points="129.75,538.55 135.94,435.64 306.55,407.12"/>
<polyline stroke="#ff9900" stroke-width="0.8" points="129.75,538.55 133.29,457.06 306.55,407.12"/>
<polyline stroke="#fe0000" stroke-width="0.8" points="129.75,538.55 130.99,445.63 306.55,407.12"/>
<polyline stroke="#dc0000" stroke-width="0.8" points="129.75,538.55 132.4,499.78 306.55,407.12"/>
<polyline stroke="#cc0c0c" stroke-width="0.8" points="129.75,538.55 131.52,529.35 306.55,407.12"/>
<polyline stroke="#ff1493" stroke-width="1.4" stroke-dasharray="1.26 2.09" points="129.75,538.55 133.25,456.56 306.55,407.12"/>
<polyline stroke="#000080" stroke-width="1.4" stroke-dasharray="1.26 2.09" points="129.75,538.55 130.99,506.08 131.52,494.15 131.69,490.21 131.87,486.77 132.4,477.77 133.29,467.85 134.17,463.53 135.05,460.69 135.94,458.49 137.71,457.02 306.55,407.12"/>
<line stroke="#000" stroke-width="0.8" stroke-dasharray="2.34 1.01" x1="129.75" y1="538.55" x2="306.55" y2="407.12"/>
</g>
<rect x="129.75" y="400.55" width="176.8" height="138" fill="none" stroke="#000" stroke-width="0.25"/>
<path d="M129.75,538.55v1.11M129.75,538.55h-1.11M165.11,538.55v1.11M129.75,512.26h-1.11M200.47,538.55v1.11M129.75,485.98h-1.11M235.83,538.55v1.11M129.75,459.69h-1.11M271.19,538.55v1.11M129.75,433.41h-1.11M306.55,538.55v1.11M129.75,407.12h-1.11" stroke="#000" stroke-width="0.25" fill="none"/>
<g font-size="3.16">
<text x="129.75" y="543.16" text-anchor="middle">0.0</text>
<text x="165.11" y="543.16" text-anchor="middle">0.2</text>
<text x="200.47" y="543.16" text-anchor="middle">0.4</text>
<text x="235.83" y="543.16" text-anchor="middle">0.6</text>
<text x="271.19" y="543.16" text-anchor="middle">0.8</text>
<text x="306.55" y="543.16" text-anchor="middle">1.0</text>
<text x="127.54" y="539.69" text-anchor="end">0.0</text>
<text x="127.54" y="513.4" text-anchor="end">0.2</text>
<text x="127.54" y="487.12" text-anchor="end">0.4</text>
<text x="127.54" y="460.83" text-anchor="end">0.6</text>
<text x="127.54" y="434.54" text-anchor="end">0.8</text>
<text x="127.54" y="408.26" text-anchor="end">1.0</text>
<text x="218.15" y="547.15" text-anchor="middle">False Positive Rate</text>
<text transform="translate(119.85,469.55) rotate(-90)" text-anchor="middle">True Positive Rate</text>
</g>
<text x="218.15" y="398.65" font-size="3.79" text-anchor="middle">Random Forest</text>
<rect x="229.57" y="431.55" width="75.4" height="105.42" rx="0.6" fill="#fff" fill-opacity="0.8" stroke="#ccc" stroke-opacity="0.8" stroke-width="0.32"/>
<g font-size="3.16" fill="none">
<line x1="230.83" y1="434.05" x2="237.15" y2="434.05" stroke="#000000" stroke-width="0.8" stroke-linecap="square"/><text x="239.68" y="435.05" fill="#000">ROC curve of class 0 (area = 0.66)</text>
<line x1="230.83" y1="438.81" x2="237.15" y2="438.81" stroke="#700080" stroke-width="0.8" stroke-linecap="square"/><text x="239.68" y="439.81" fill="#000">ROC curve of class 1 (area = 0.79)</text>
<line x1="230.83" y1="443.56" x2="237.15" y2="443.56" stroke="#870098" stroke-width="0.8" stroke-linecap="square"/><text x="239.68" y="444.56" fill="#000">ROC curve of class 2 (area = 0.81)</text>
<line x1="230.83" y1="448.31" x2="237.15" y2="448.31" stroke="#0300aa" stroke-width="0.8" stroke-linecap="square"/><text x="239.68" y="449.31" fill="#000">ROC curve of class 3 (area = 0.79)</text>
<line x1="230.83" y1="453.07" x2="237.15" y2="453.07" stroke="#0000dd" stroke-width="0.8" stroke-linecap="square"/><text x="239.68" y="454.07" fill="#000">ROC curve of class 4 (area = 0.82)</text>
<line x1="230.83" y1="457.82" x2="237.15" y2="457.82" stroke="#0078dd" stroke-width="0.8" stroke-linecap="square"/><text x="239.68" y="458.82" fill="#000">ROC curve of class 5 (area = 0.84)</text>
<line x1="230.83" y1="462.58" x2="237.15" y2="462.58" stroke="#0098dd" stroke-width="0.8" stroke-linecap="square"/><text x="239.68" y="463.58" fill="#000">ROC curve of class 6 (area = 0.90)</text>
<line x1="230.83" y1="467.34" x2="237.15" y2="467.34" stroke="#00aaab" stroke-width="0.8" stroke-linecap="square"/><text x="239.68" y="468.34" fill="#000">ROC curve of class 7 (area = 0.81)</text>
<line x1="230.83" y1="472.09" x2="237.15" y2="472.09" stroke="#00aa88" stroke-width="0.8" stroke-linecap="square"/><text x="239.68" y="473.09" fill="#000">ROC curve of class 8 (area = 0.84)</text>
<line x1="230.83" y1="476.85" x2="237.15" y2="476.85" stroke="#009a00" stroke-width="0.8" stroke-linecap="square"/><text x="239.68" y="477.85" fill="#000">ROC curve of class 9 (area = 0.88)</text>
<line x1="230.83" y1="481.6" x2="237.15" y2="481.6" stroke="#00bc00" stroke-width="0.8" stroke-linecap="square"/><text x="239.68" y="482.6" fill="#000">ROC curve of class 10 (area = 0.91)</text>
<line x1="230.83" y1="486.36" x2="237.15" y2="486.36" stroke="#00dc00" stroke-width="0.8" stroke-linecap="square"/><text x="239.68" y="487.36" fill="#000">ROC curve of class 11 (area = 0.83)</text>
<line x1="230.83" y1="491.11" x2="237.15" y2="491.11" stroke="#00ff00" stroke-width="0.8" stroke-linecap="square"/><text x="239.68" y="492.11" fill="#000">ROC curve of class 12 (area = 0.71)</text>
<line x1="230.83" y1="495.87" x2="237.15" y2="495.87" stroke="#bcff00" stroke-width="0.8" stroke-linecap="square"/><text x="239.68" y="496.87" fill="#000">ROC curve of class 13 (area = 0.79)</text>
<line x1="230.83" y1="500.62" x2="237.15" y2="500.62" stroke="#efed00" stroke-width="0.8" stroke-linecap="square"/><text x="239.68" y="501.62" fill="#000">ROC curve of class 14 (area = 0.83)</text>
<line x1="230.83" y1="505.38" x2="237.15" y2="505.38" stroke="#ffc900" stroke-width="0.8" stroke-linecap="square"/><text x="239.68" y="506.38" fill="#000">ROC curve of class 15 (area = 0.87)</text>
<line x1="230.83" y1="510.13" x2="237.15" y2="510.13" stroke="#ff9900" stroke-width="0.8" stroke-linecap="square"/><text x="239.68" y="511.13" fill="#000">ROC curve of class 16 (area = 0.80)</text>
<line x1="230.83" y1="514.88" x2="237.15" y2="514.88" stroke="#fe0000" stroke-width="0.8" stroke-linecap="square"/><text x="239.68" y="515.88" fill="#000">ROC curve of class 17 (area = 0.85)</text>
<line x1="230.83" y1="519.64" x2="237.15" y2="519.64" stroke="#dc0000" stroke-width="0.8" stroke-linecap="square"/><text x="239.68" y="520.64" fill="#000">ROC curve of class 18 (area = 0.64)</text>
<line x1="230.83" y1="524.39" x2="237.15" y2="524.39" stroke="#cc0c0c" stroke-width="0.8" stroke-linecap="square"/><text x="239.68" y="525.39" fill="#000">ROC curve of class 19 (area = 0.53)</text>
<line x1="230.83" y1="529.15" x2="237.15" y2="529.15" stroke="#ff1493" stroke-width="1.4" stroke-dasharray="1.26 2.09"/><text x="239.68" y="530.15" fill="#000">micro-average ROC curve (area = 0.80)</text>
<line x1="230.83" y1="533.9" x2="237.15" y2="533.9" stroke="#000080" stroke-width="1.4" stroke-dasharray="1.26 2.09"/><text x="239.68" y="534.9" fill="#000">macro-average ROC curve (area = 0.79)</text>
</g>
</g>
</svg>
</div>
</body></html>
